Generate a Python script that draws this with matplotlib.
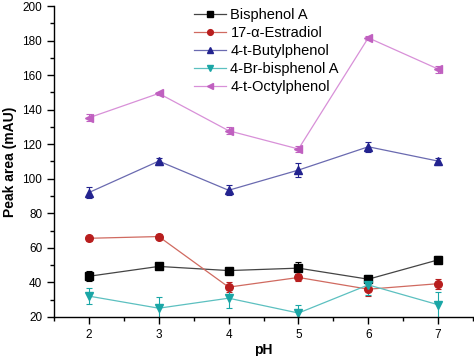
import matplotlib
matplotlib.use("Agg")
import matplotlib.pyplot as plt
from matplotlib.ticker import MultipleLocator

plt.rcParams['font.family'] = ['Liberation Sans', 'DejaVu Sans']

ph = [2, 3, 4, 5, 6, 7]
names = ["Bisphenol A", "17-\u03b1-Estradiol", "4-t-Butylphenol", "4-Br-bisphenol A", "4-t-Octylphenol"]
bisphenol_a = [43.5, 49.2, 46.8, 48.2, 41.8, 53.0]
bisphenol_a_err = [3.0, 1.2, 1.5, 3.5, 2.0, 2.0]
estradiol = [65.5, 66.5, 37.2, 42.8, 36.0, 39.2]
estradiol_err = [1.5, 1.5, 3.0, 2.0, 4.0, 3.0]
butylphenol = [92.0, 110.2, 93.3, 105.0, 118.5, 110.2]
butylphenol_err = [3.0, 2.0, 3.0, 4.0, 3.0, 2.0]
br_bisphenol = [32.0, 25.0, 30.8, 22.2, 38.5, 27.0]
br_bisphenol_err = [4.5, 6.5, 5.5, 4.5, 6.0, 7.5]
octylphenol = [135.3, 149.4, 127.8, 117.2, 181.6, 163.5]
octylphenol_err = [2.0, 1.0, 2.0, 2.0, 1.0, 2.0]

series = [bisphenol_a, estradiol, butylphenol, br_bisphenol, octylphenol]
errors = [bisphenol_a_err, estradiol_err, butylphenol_err, br_bisphenol_err, octylphenol_err]
line_colors = ["#444444", "#d06a60", "#6a6ab0", "#5cc0c0", "#d890d8"]
marker_colors = ["#000000", "#b81e1e", "#23238f", "#1aa6a6", "#c060c0"]
markers = ["s", "o", "^", "v", "<"]

fig = plt.figure(figsize=(4.74, 3.56), dpi=100)
ax = fig.add_axes([0.114, 0.11, 0.884, 0.873])

for vals, err, lc, mc, m, name in zip(series, errors, line_colors, marker_colors, markers, names):
    ax.errorbar(ph, vals, yerr=err, color=lc, ecolor=mc, elinewidth=0.8, capsize=2.5,
                capthick=0.8, lw=0.9, marker=m, markersize=5.5, markerfacecolor=mc,
                markeredgecolor=mc, label=name)

ax.set_xlim(1.5, 7.5)
ax.set_ylim(20, 200)
ax.xaxis.set_major_locator(MultipleLocator(1))
ax.xaxis.set_minor_locator(MultipleLocator(0.5))
ax.yaxis.set_major_locator(MultipleLocator(20))
ax.yaxis.set_minor_locator(MultipleLocator(10))
ax.tick_params(which='major', direction='out', length=5, width=1, labelsize=8.5)
ax.tick_params(which='minor', direction='out', length=3, width=1)
ax.spines['top'].set_visible(False)
ax.spines['right'].set_visible(False)
for s in ['left', 'bottom']:
    ax.spines[s].set_linewidth(1)

ax.set_xlabel("pH", fontsize=10, fontweight='bold', labelpad=2)
ax.set_ylabel("Peak area (mAU)", fontsize=10, fontweight='bold', labelpad=4)

handles, labels = ax.get_legend_handles_labels()
handles = [h[0] for h in handles]
ax.legend(handles, labels, loc='upper left', bbox_to_anchor=(0.32, 1.013), frameon=False,
          fontsize=10.5, handlelength=2.2, labelspacing=0.28, borderaxespad=0,
          handletextpad=0.3, markerscale=0.75)

fig.savefig("out.png", dpi=100)
